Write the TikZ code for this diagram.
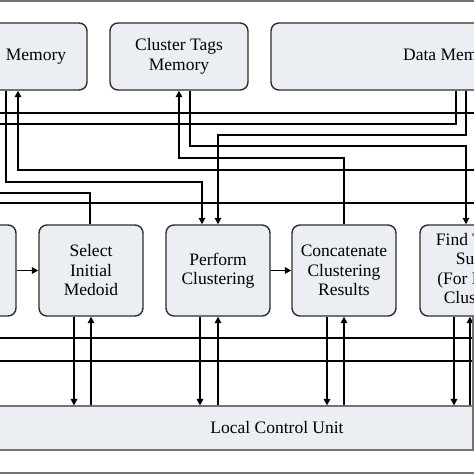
\documentclass[tikz,border=0pt]{standalone}
\usepackage{fontspec}
\setmainfont{Liberation Serif}
\usetikzlibrary{arrows.meta}
\definecolor{boxfill}{RGB}{235,239,243}
\definecolor{boxline}{RGB}{45,45,45}
\definecolor{edgegray}{RGB}{115,115,115}
\tikzset{
  blk/.style={draw=boxline, fill=boxfill, line width=1.4pt, rounded corners=8pt,
    align=center, inner sep=0pt, font=\fontsize{17.5}{19.5}\selectfont},
  lcubox/.style={draw=edgegray, fill=boxfill, line width=1.2pt, inner sep=0pt,
    font=\fontsize{17.5}{19.5}\selectfont},
  wire/.style={line width=1.9pt, draw=black},
  bus/.style={line width=2.3pt, draw=black},
  arr/.style={wire, -{Triangle[length=6.5pt,width=6.5pt]}},
  jdot/.style={fill=black},
}
\begin{document}
\begin{tikzpicture}[x=1pt,y=-1pt]
\clip (0,0) rectangle (474,474);
\fill[white] (0,0) rectangle (474,474);
% border bands
\fill[edgegray] (0,0) rectangle (474,2);
\fill[edgegray] (0,472) rectangle (474,474);

% memories
\node[blk, minimum width=102pt, minimum height=67pt] (mem) at (36,56.5) {Memory};
\node[blk, minimum width=138pt, minimum height=67pt] (ctm) at (179,56.5) {Cluster Tags\\Memory};
\node[blk, minimum width=362pt, minimum height=67pt] (dm) at (452,56.5) {Data Memory};

% processing blocks
\node[blk, minimum width=106pt, minimum height=91pt] (pre) at (-37,270.5) {};
\node[blk, minimum width=104pt, minimum height=91pt] (sel) at (91,270.5) {Select\\Initial\\Medoid};
\node[blk, minimum width=104pt, minimum height=91pt] (perf) at (218,270.5) {Perform\\Clustering};
\node[blk, minimum width=104pt, minimum height=91pt] (conc) at (344,270.5) {Concatenate\\Clustering\\Results};
\node[blk, minimum width=104pt, minimum height=91pt] (find) at (472,270.5) {Find Total\\Sum\\(For Each\\Cluster)};

% local control unit
\node[lcubox, minimum width=760pt, minimum height=44pt] (lcu) at (277,428) {Local Control Unit};

% helper x positions
\foreach \n/\x in {x6/6,x18/18,x74/74,x90/90,x91/91,x179/179,x190/190,x200/200,x202/202,
                   x218/218,x327/327,x344/344,x454/454,x456/456,x466/466,x470/470}
  \coordinate (\n) at (\x,0);

% full-width buses
\coordinate (b113w) at (-5,113); \coordinate (b113e) at (480,113);
\coordinate (b203w) at (-5,203); \coordinate (b203e) at (480,203);
\coordinate (b338w) at (-5,338); \coordinate (b338e) at (480,338);
\coordinate (b361w) at (-5,361); \coordinate (b361e) at (480,361);
\draw[bus] (b113w) -- (b113e);
\draw[bus] (b203w) -- (b203e);
\draw[bus] (b338w) -- (b338e);
\draw[bus] (b361w) -- (b361e);

% turning points / free ends
\coordinate (w124) at (-5,124);
\coordinate (c135) at (218,135);
\coordinate (c146) at (466,146);
\coordinate (c158) at (179,158);
\coordinate (e170) at (480,170);
\coordinate (c182) at (202,182);
\coordinate (w193) at (-5,193);

% upper connectors
\draw[wire] (dm.south -| x456) |- (w124);
\draw[arr] (dm.south -| x466) |- (c135) -- (perf.north -| c135);
\draw[arr] (ctm.south -| x190) |- (c146) -- (find.north -| c146);
\draw[arr] (conc.north -| x344) |- (c158) -- (ctm.south -| c158);
\draw[arr] (e170) -| (mem.south -| x18);
\draw[arr] (mem.south -| x6) |- (c182) -- (perf.north -| c182);
\draw[wire] (sel.north -| x90) |- (w193);

% horizontal block arrows
\draw[arr] (pre.east) -- (sel.west);
\draw[arr] (perf.east) -- (conc.west);

% block <-> local control unit
\draw[arr] (sel.south -| x74) -- (lcu.north -| x74);
\draw[arr] (lcu.north -| x91) -- (sel.south -| x91);
\draw[arr] (perf.south -| x200) -- (lcu.north -| x200);
\draw[arr] (lcu.north -| x218) -- (perf.south -| x218);
\draw[arr] (conc.south -| x327) -- (lcu.north -| x327);
\draw[arr] (lcu.north -| x344) -- (conc.south -| x344);
\draw[arr] (find.south -| x454) -- (lcu.north -| x454);
\draw[arr] (lcu.north -| x470) -- (find.south -| x470);

% crossing dots
\foreach \p in {(6,124),(18,124),(179,124),(190,124),(218,146),(218,158),(218,170),
                (344,170),(466,170),(344,203),(466,203)}
  \fill[jdot] \p circle (1.9);

% right edge artefact
\fill[edgegray] (471.8,316) rectangle (474,450);
\end{tikzpicture}
\end{document}
